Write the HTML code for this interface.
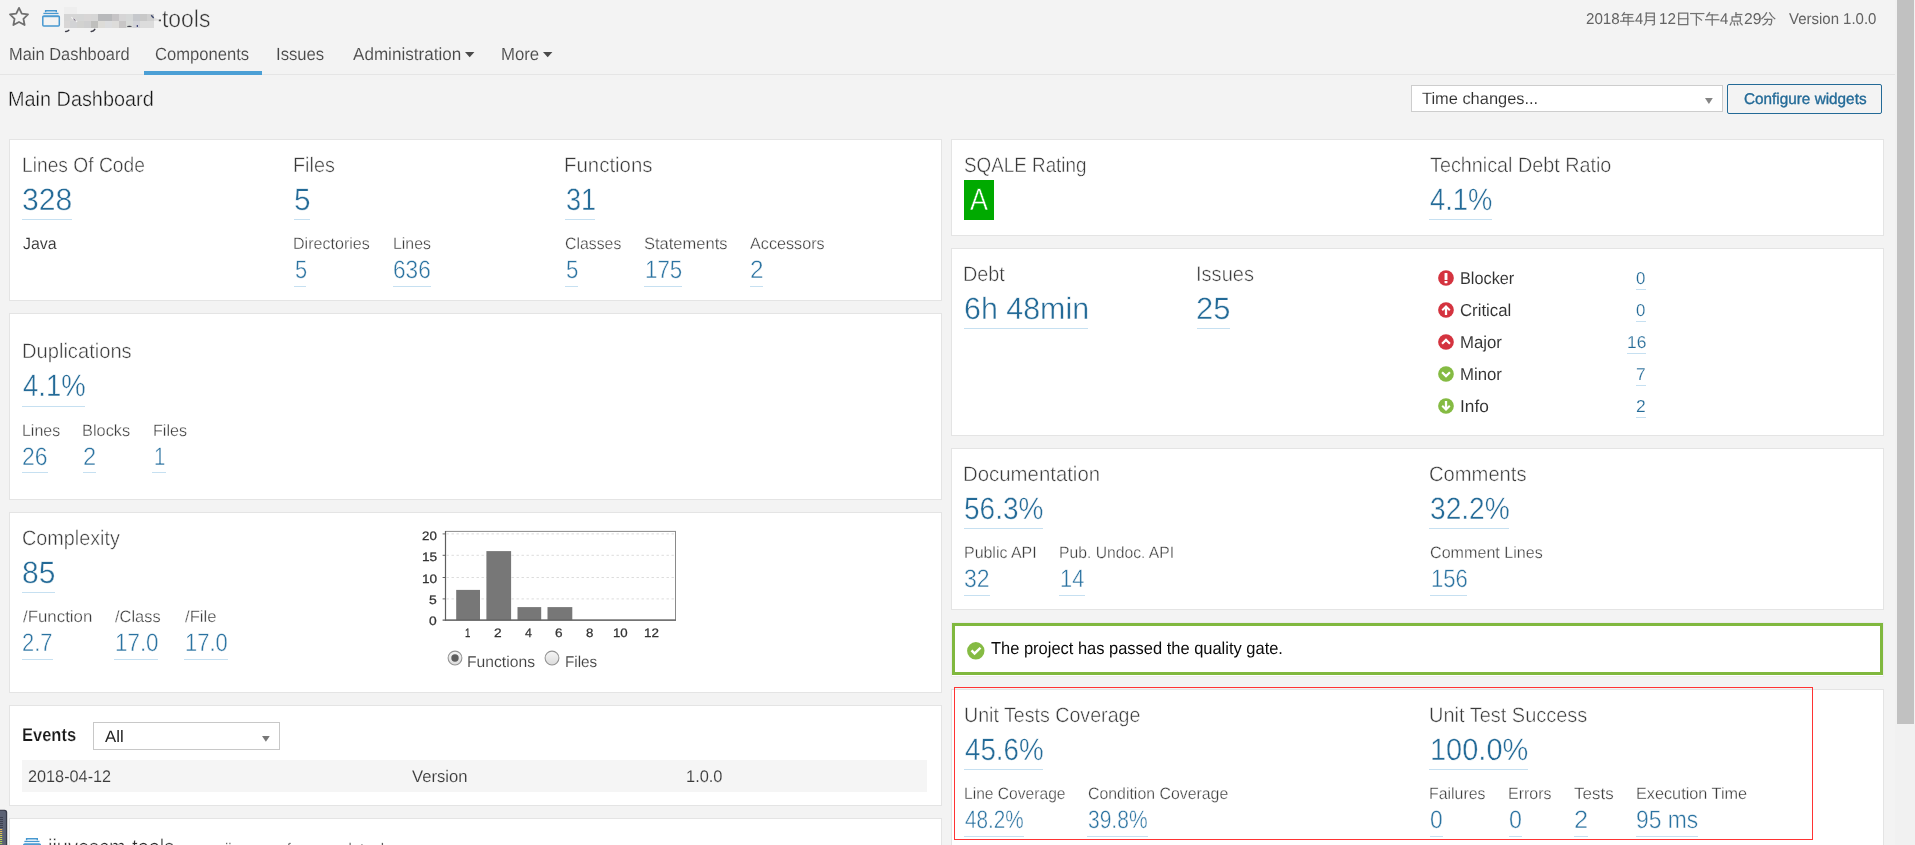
<!DOCTYPE html>
<html lang="en">
<head>
<meta charset="utf-8">
<title>Main Dashboard - tools</title>
<style>
html,body{margin:0;padding:0;}
body{background:#f3f3f3;font-family:"Liberation Sans",sans-serif;overflow:hidden;}
#page{position:relative;width:1915px;height:845px;overflow:hidden;background:#f3f3f3;}
#page *{box-sizing:border-box;}
.abs,.panel,.t,.u,svg.ic{position:absolute;}
.panel{background:#fff;border:1px solid #e4e4e4;}
.t{white-space:nowrap;line-height:1;text-rendering:geometricPrecision;transform-origin:0 0;font-family:"Liberation Sans",sans-serif;}
.t.blur{filter:blur(0.35px);}
.u{display:block;}
svg.ic{overflow:visible;}
</style>
</head>
<body>
<div id="page">
<svg class="ic" style="left:8px;top:6px" width="22" height="21" viewBox="0 0 22 21"><path d="M11 1.9 L13.75 7.6 L20 8.45 L15.45 12.8 L16.6 19 L11 16 L5.4 19 L6.55 12.8 L2 8.45 L8.25 7.6 Z" fill="none" stroke="#6f6f6f" stroke-width="1.8" stroke-linejoin="round"/></svg>
<svg class="ic" style="left:41px;top:9px" width="20" height="18" viewBox="0 0 20 18"><g fill="none" stroke="#4798d0" stroke-width="1.5"><rect x="1.8" y="6.9" width="16.5" height="10.1" rx="1"/><path d="M1.6 7.7 H18.5" stroke-width="1"/><path d="M2.4 4.45 H17.5" stroke-width="1.3"/><path d="M4.6 3.3 V1.7 H15.3 V3.3" stroke-width="1.4"/></g></svg>
<div class="abs" style="left:64.4px;top:7.1px;width:12.6px;height:6.9px;background:#eeeeee"></div>
<div class="abs" style="left:64.4px;top:13.9px;width:5.85px;height:7.15px;background:#d5d5d5"></div>
<div class="abs" style="left:64.4px;top:21px;width:5.85px;height:7px;background:#d8d6d6"></div>
<div class="abs" style="left:70.2px;top:13.9px;width:6.85px;height:7.15px;background:#d6d6d6"></div>
<div class="abs" style="left:70.2px;top:21px;width:6.85px;height:7px;background:#d2d3d5"></div>
<div class="abs" style="left:77px;top:13.9px;width:7.05px;height:7.15px;background:#d5d6d6"></div>
<div class="abs" style="left:77px;top:21px;width:7.05px;height:7px;background:#d2d2d0"></div>
<div class="abs" style="left:84px;top:13.9px;width:7.15px;height:7.15px;background:#d8d6d6"></div>
<div class="abs" style="left:84px;top:21px;width:7.15px;height:7px;background:#cfcfd0"></div>
<div class="abs" style="left:91.1px;top:13.9px;width:7.05px;height:7.15px;background:#d6d6d6"></div>
<div class="abs" style="left:91.1px;top:21px;width:7.05px;height:7px;background:#bfbfbd"></div>
<div class="abs" style="left:98.1px;top:13.9px;width:6.85px;height:7.15px;background:#b8b9bb"></div>
<div class="abs" style="left:98.1px;top:21px;width:6.85px;height:7px;background:#dddcd8"></div>
<div class="abs" style="left:104.9px;top:13.9px;width:7.15px;height:7.15px;background:#b8b9bb"></div>
<div class="abs" style="left:104.9px;top:21px;width:7.15px;height:7px;background:#dcdddf"></div>
<div class="abs" style="left:112px;top:13.9px;width:7.05px;height:7.15px;background:#c6c4c6"></div>
<div class="abs" style="left:112px;top:21px;width:7.05px;height:7px;background:#dddcda"></div>
<div class="abs" style="left:119px;top:13.9px;width:7.15px;height:7.15px;background:#d6d5d6"></div>
<div class="abs" style="left:119px;top:21px;width:7.15px;height:7px;background:#c8c6c6"></div>
<div class="abs" style="left:126.1px;top:13.9px;width:7.05px;height:7.15px;background:#d6d8d8"></div>
<div class="abs" style="left:126.1px;top:21px;width:7.05px;height:7px;background:#d8dad8"></div>
<div class="abs" style="left:133.1px;top:13.9px;width:7.15px;height:7.15px;background:#c6c8cc"></div>
<div class="abs" style="left:133.1px;top:21px;width:7.15px;height:7px;background:#d2d3d8"></div>
<div class="abs" style="left:140.2px;top:13.9px;width:6.75px;height:7.15px;background:#c8c8c8"></div>
<div class="abs" style="left:140.2px;top:21px;width:6.75px;height:7px;background:#dcdcdc"></div>
<div class="abs" style="left:146.9px;top:13.9px;width:7.15px;height:7.15px;background:#d0d0d0"></div>
<div class="abs" style="left:146.9px;top:21px;width:7.15px;height:7px;background:#dcdcdc"></div>
<svg class="ic" style="left:60px;top:4px" width="110" height="32" viewBox="0 0 110 32"><g fill="none" stroke="#3f3f4a" stroke-width="1.5" stroke-linecap="round"><path d="M8.8 26.2 Q7.6 27.6 5.6 27.4"/><path d="M34.8 25.4 Q33.6 27.6 31.2 27.5"/></g><ellipse cx="69.4" cy="22.35" rx="2.5" ry="0.65" fill="#3a3a44"/><path d="M77.3 20.9 V23" stroke="#2a2f6a" stroke-width="1.1"/><path d="M91.2 11.3 L93.7 14" stroke="#3f4a6e" stroke-width="1.4"/><path d="M94 13.8 L98.6 15.2 L98.6 16.6 L94 17 Z" fill="#e0e0e0"/><path d="M98.8 16.4 H101" stroke="#4a4a4a" stroke-width="1.7"/><path d="M11.4 13.2 L13.2 15.2" stroke="#f2f2f2" stroke-width="1.2"/><path d="M13.6 15 L15.4 16.6" stroke="#5a4a6a" stroke-width="0.9"/><path d="M15.8 17 L17.2 17.8" stroke="#f4f4f4" stroke-width="1.3"/></svg>
<svg class="ic" style="left:1620.3px;top:11.6px" width="14.4" height="13.5" viewBox="0 0 14 14" preserveAspectRatio="none"><g fill="none" stroke="#727272" stroke-width="1.25" stroke-linecap="square"><path d="M4.2 0.6 L2.2 3.8"/><path d="M3.4 2.6 H12.4"/><path d="M3.6 6 H11.8"/><path d="M3.6 6 V9.6"/><path d="M0.6 9.6 H13.4"/><path d="M7.9 2.6 V13.6"/></g></svg>
<svg class="ic" style="left:1643.4px;top:11.6px" width="14.4" height="13.5" viewBox="0 0 14 14" preserveAspectRatio="none"><g fill="none" stroke="#727272" stroke-width="1.25" stroke-linecap="square"><path d="M3.2 1.2 V8.6 Q3.2 11.8 1.2 13.4"/><path d="M3.2 1.2 H11 V12.6 Q11 13.5 9.2 13.4"/><path d="M3.2 5 H11"/><path d="M3.2 8.8 H11"/></g></svg>
<svg class="ic" style="left:1675.9px;top:11.6px" width="14.4" height="13.5" viewBox="0 0 14 14" preserveAspectRatio="none"><g fill="none" stroke="#727272" stroke-width="1.25" stroke-linecap="square"><path d="M2.6 1.2 H11.4 V13 H2.6 Z"/><path d="M2.6 7 H11.4"/></g></svg>
<svg class="ic" style="left:1690.0px;top:11.6px" width="14.4" height="13.5" viewBox="0 0 14 14" preserveAspectRatio="none"><g fill="none" stroke="#727272" stroke-width="1.25" stroke-linecap="square"><path d="M0.6 1.6 H13.4"/><path d="M6.2 1.6 V13.6"/><path d="M7.2 5.2 L11.2 8.4"/></g></svg>
<svg class="ic" style="left:1705.0px;top:11.6px" width="14.4" height="13.5" viewBox="0 0 14 14" preserveAspectRatio="none"><g fill="none" stroke="#727272" stroke-width="1.25" stroke-linecap="square"><path d="M4.4 0.6 L1.8 4.8"/><path d="M3.4 3 H12.4"/><path d="M0.6 8 H13.4"/><path d="M7 3 V13.6"/></g></svg>
<svg class="ic" style="left:1729.0px;top:11.6px" width="14.4" height="13.5" viewBox="0 0 14 14" preserveAspectRatio="none"><g fill="none" stroke="#727272" stroke-width="1.25" stroke-linecap="square"><path d="M6.8 0.6 V5"/><path d="M6.8 2.6 H12.4"/><path d="M3 5 H11 V9.4 H3 Z"/><path d="M2.2 11.2 L1.2 13.4"/><path d="M5 11.4 L5.4 13.4"/><path d="M8 11.4 L8.6 13.4"/><path d="M11 11.2 L12.8 13.4"/></g></svg>
<svg class="ic" style="left:1761.2px;top:11.6px" width="14.4" height="13.5" viewBox="0 0 14 14" preserveAspectRatio="none"><g fill="none" stroke="#727272" stroke-width="1.25" stroke-linecap="square"><path d="M5.4 0.8 Q4.2 4.2 0.8 7"/><path d="M8.4 0.8 Q9.8 4.2 13.4 7"/><path d="M3.6 7.6 H10.4 Q10.4 12.4 9.2 13.4 L7.8 13"/><path d="M6.6 7.6 Q6 11.6 2 13.4"/></g></svg>
<div class="abs" style="left:0px;top:74px;width:1895px;height:1px;background:#e5e5e5"></div>
<div class="abs" style="left:144px;top:71px;width:118px;height:4px;background:#4b9fd5"></div>
<svg class="ic" style="left:464.6px;top:52.4px" width="9.4" height="5.2" viewBox="0 0 9.4 5.2"><path d="M0 0 H9.4 L4.7 5.2 Z" fill="#4a4a4a"/></svg>
<svg class="ic" style="left:543px;top:52.4px" width="9.4" height="5.2" viewBox="0 0 9.4 5.2"><path d="M0 0 H9.4 L4.7 5.2 Z" fill="#4a4a4a"/></svg>
<div class="abs" style="left:1411px;top:85px;width:312px;height:27px;background:#fff;border:1px solid #cdcdcd"></div>
<svg class="ic" style="left:1705.2px;top:97.9px" width="7.8" height="6.1" viewBox="0 0 8 6"><path d="M0 0 H8 L4 6 Z" fill="#858585"/></svg>
<div class="abs" style="left:1727px;top:84px;width:155px;height:30px;background:#f3f3f3;border:1px solid #236a97;border-radius:2px"></div>
<div class="panel" style="left:9px;top:139px;width:933px;height:162px;"></div>
<div class="panel" style="left:9px;top:313px;width:933px;height:187px;"></div>
<div class="panel" style="left:9px;top:512px;width:933px;height:181px;"></div>
<div class="panel" style="left:9px;top:705px;width:933px;height:101px;"></div>
<div class="panel" style="left:9px;top:818px;width:933px;height:82px;"></div>
<div class="panel" style="left:951px;top:139px;width:933px;height:97px;"></div>
<div class="panel" style="left:951px;top:248px;width:933px;height:188px;"></div>
<div class="panel" style="left:951px;top:448px;width:933px;height:162px;"></div>
<div class="panel" style="left:951px;top:622px;width:933px;height:55px;border-color:#ececec;"></div>
<div class="panel" style="left:951px;top:689px;width:933px;height:211px;"></div>
<div class="abs" style="left:964px;top:180px;width:30px;height:39.5px;background:#00aa00"></div>
<svg class="ic" style="left:1438px;top:270px" width="16" height="16" viewBox="0 0 16 16"><circle cx="8" cy="8" r="7.85" fill="#d4333f"/><rect x="6.55" y="3" width="2.9" height="7" rx="0.5" fill="#fff"/><rect x="6.55" y="11" width="2.9" height="2.2" rx="0.4" fill="#fff"/></svg>
<svg class="ic" style="left:1438px;top:302px" width="16" height="16" viewBox="0 0 16 16"><circle cx="8" cy="8" r="7.85" fill="#d4333f"/><path d="M8 2.9 L12.5 7.6 L11.1 9 L9.15 7 V13 H6.85 V7 L4.9 9 L3.5 7.6 Z" fill="#fff"/></svg>
<svg class="ic" style="left:1438px;top:334px" width="16" height="16" viewBox="0 0 16 16"><circle cx="8" cy="8" r="7.85" fill="#d4333f"/><path d="M8 4.3 L12.7 9.1 L11.2 10.6 L8 7.4 L4.8 10.6 L3.3 9.1 Z" fill="#fff"/></svg>
<svg class="ic" style="left:1438px;top:366px" width="16" height="16" viewBox="0 0 16 16"><circle cx="8" cy="8" r="7.85" fill="#85bb43"/><path d="M8 11.7 L12.7 6.9 L11.2 5.4 L8 8.6 L4.8 5.4 L3.3 6.9 Z" fill="#fff"/></svg>
<svg class="ic" style="left:1438px;top:398px" width="16" height="16" viewBox="0 0 16 16"><circle cx="8" cy="8" r="7.85" fill="#85bb43"/><path d="M8 13.1 L12.5 8.4 L11.1 7 L9.15 9 V3 H6.85 V9 L4.9 7 L3.5 8.4 Z" fill="#fff"/></svg>
<div class="abs" style="left:952px;top:623px;width:931px;height:52px;border:3px solid #80b83e;background:#fff"></div>
<svg class="ic" style="left:966.6px;top:641.5px" width="17.6" height="17.6" viewBox="0 0 17.6 17.6"><circle cx="8.8" cy="8.8" r="8.7" fill="#85bb43"/><path d="M3.6 9.2 L5.4 7.5 L7.6 9.7 L12.6 4.9 L14.4 6.6 L7.6 13.2 Z" fill="#fff"/></svg>
<svg class="ic" style="left:415px;top:525px;filter:blur(0.3px)" width="280" height="110" viewBox="415 525 280 110"><rect x="445.5" y="531.4" width="230" height="88.7" fill="#fff" stroke="#8a8a8a" stroke-width="1"/><path d="M446.5 533.9 H675" stroke="#dcdcdc" stroke-width="1" stroke-dasharray="2.4 2.6"/><path d="M442.6 533.9 H445.5" stroke="#666" stroke-width="1"/><path d="M446.5 555.3 H675" stroke="#dcdcdc" stroke-width="1" stroke-dasharray="2.4 2.6"/><path d="M442.6 555.3 H445.5" stroke="#666" stroke-width="1"/><path d="M446.5 577.5 H675" stroke="#dcdcdc" stroke-width="1" stroke-dasharray="2.4 2.6"/><path d="M442.6 577.5 H445.5" stroke="#666" stroke-width="1"/><path d="M446.5 598.9 H675" stroke="#dcdcdc" stroke-width="1" stroke-dasharray="2.4 2.6"/><path d="M442.6 598.9 H445.5" stroke="#666" stroke-width="1"/><rect x="456.2" y="589.9" width="23.8" height="30.2" fill="#777"/><rect x="486.4" y="551.1" width="24.7" height="69.0" fill="#777"/><rect x="517.5" y="607.1" width="23.7" height="13.0" fill="#777"/><rect x="547.5" y="607.1" width="24.8" height="13.0" fill="#777"/><path d="M445.5 531 V620.6" stroke="#5e5e5e" stroke-width="1.2"/><path d="M442.6 620.1 H676" stroke="#5e5e5e" stroke-width="1.2"/></svg>
<svg class="ic" style="left:447.4px;top:650.4px" width="16" height="16" viewBox="0 0 16 16"><defs><linearGradient id="rg455" x1="0" y1="0" x2="0" y2="1"><stop offset="0" stop-color="#f6f6f6"/><stop offset="1" stop-color="#dcdcdc"/></linearGradient></defs><circle cx="8" cy="8" r="6.9" fill="url(#rg455)" stroke="#939393" stroke-width="1.05"/><circle cx="8" cy="8" r="3.7" fill="#5e5e5e"/></svg>
<svg class="ic" style="left:544.4px;top:650.2px" width="16" height="16" viewBox="0 0 16 16"><defs><linearGradient id="rg552" x1="0" y1="0" x2="0" y2="1"><stop offset="0" stop-color="#f6f6f6"/><stop offset="1" stop-color="#dcdcdc"/></linearGradient></defs><circle cx="8" cy="8" r="6.9" fill="url(#rg552)" stroke="#939393" stroke-width="1.05"/></svg>
<div class="abs" style="left:93px;top:722px;width:187px;height:28px;background:#fff;border:1px solid #c8c8c8"></div>
<svg class="ic" style="left:262.4px;top:736.4px" width="7.8" height="5.8" viewBox="0 0 8 6"><path d="M0 0 H8 L4 6 Z" fill="#777"/></svg>
<div class="abs" style="left:22px;top:760px;width:905px;height:31.6px;background:#f5f5f5"></div>
<svg class="ic" style="left:22px;top:836.6px" width="20" height="18" viewBox="0 0 20 18"><g fill="none" stroke="#4798d0" stroke-width="1.5"><rect x="1.8" y="6.9" width="16.5" height="10.1" rx="1"/><path d="M1.6 7.7 H18.5" stroke-width="1"/><path d="M2.4 4.45 H17.5" stroke-width="1.3"/><path d="M4.6 3.3 V1.7 H15.3 V3.3" stroke-width="1.4"/></g></svg>
<!-- text -->
<span class="t" style="left:161.9px;top:7.85px;font-size:24.6px;color:#333;transform:scaleX(0.9318);-webkit-text-stroke:0.5px #f3f3f3">tools</span>
<span class="t" style="left:1586.09px;top:11.9px;font-size:15.6px;color:#626262;transform:scaleX(0.9718)">2018</span>
<span class="t" style="left:1635.37px;top:11.9px;font-size:15.6px;color:#626262;transform:scaleX(0.9448)">4</span>
<span class="t" style="left:1659.25px;top:11.9px;font-size:15.6px;color:#626262;transform:scaleX(0.9781)">12</span>
<span class="t" style="left:1720.37px;top:11.9px;font-size:15.6px;color:#626262;transform:scaleX(0.9573)">4</span>
<span class="t" style="left:1743.86px;top:11.9px;font-size:15.6px;color:#626262;transform:scaleX(1.007)">29</span>
<span class="t" style="left:1788.9px;top:11.9px;font-size:15.6px;color:#626262;transform:scaleX(0.9606)">Version 1.0.0</span>
<span class="t" style="left:8.52px;top:46px;font-size:17.6px;color:#484848;transform:scaleX(0.9339);-webkit-text-stroke:0.1px #f3f3f3">Main Dashboard</span>
<span class="t" style="left:155.42px;top:46px;font-size:17.6px;color:#484848;transform:scaleX(0.9429);-webkit-text-stroke:0.1px #f3f3f3">Components</span>
<span class="t" style="left:276.3px;top:46px;font-size:17.6px;color:#484848;transform:scaleX(0.9481);-webkit-text-stroke:0.1px #f3f3f3">Issues</span>
<span class="t" style="left:352.6px;top:46px;font-size:17.6px;color:#484848;transform:scaleX(0.9708);-webkit-text-stroke:0.1px #f3f3f3">Administration</span>
<span class="t" style="left:501.29px;top:46px;font-size:17.6px;color:#484848;transform:scaleX(0.9524);-webkit-text-stroke:0.1px #f3f3f3">More</span>
<span class="t" style="left:8.05px;top:89.9px;font-size:20.9px;color:#161616;transform:scaleX(0.9505);-webkit-text-stroke:0.36px #f3f3f3">Main Dashboard</span>
<span class="t" style="left:1422.34px;top:90.8px;font-size:16.5px;color:#2c2c2c;transform:scaleX(0.9946);-webkit-text-stroke:0.1px #fff">Time changes...</span>
<span class="t" style="left:1743.88px;top:91.9px;font-size:15.6px;color:#236a97;transform:scaleX(0.9818);-webkit-text-stroke:0.35px #236a97">Configure widgets</span>
<span class="t" style="left:21.8px;top:155.8px;font-size:20.9px;color:#3a3a3a;transform:scaleX(0.9197);-webkit-text-stroke:0.45px #fff">Lines Of Code</span>
<span class="t" style="left:22.46px;top:184.9px;font-size:30.8px;color:#236a97;transform:scaleX(0.9781);-webkit-text-stroke:0.45px #fff">328</span>
<span class="t" style="left:22.75px;top:236.2px;font-size:16.4px;color:#333;transform:scaleX(0.9742);-webkit-text-stroke:0.1px #fff">Java</span>
<span class="t" style="left:293.25px;top:155.8px;font-size:20.9px;color:#3a3a3a;transform:scaleX(0.9488);-webkit-text-stroke:0.45px #fff">Files</span>
<span class="t" style="left:294.47px;top:184.9px;font-size:30.8px;color:#236a97;transform:scaleX(0.9652);-webkit-text-stroke:0.45px #fff">5</span>
<span class="t" style="left:293.44px;top:235.5px;font-size:16.4px;color:#3c3c3c;transform:scaleX(0.9807);-webkit-text-stroke:0.3px #fff">Directories</span>
<span class="t" style="left:392.96px;top:235.5px;font-size:16.4px;color:#3c3c3c;transform:scaleX(0.9676);-webkit-text-stroke:0.3px #fff">Lines</span>
<span class="t" style="left:294.62px;top:258px;font-size:25.2px;color:#2a72a0;transform:scaleX(0.8684);-webkit-text-stroke:0.45px #fff">5</span>
<span class="t" style="left:393.14px;top:258px;font-size:25.2px;color:#2a72a0;transform:scaleX(0.8985);-webkit-text-stroke:0.45px #fff">636</span>
<span class="t" style="left:564.3px;top:155.8px;font-size:20.9px;color:#3a3a3a;transform:scaleX(0.9771);-webkit-text-stroke:0.45px #fff">Functions</span>
<span class="t" style="left:565.55px;top:184.9px;font-size:30.8px;color:#236a97;transform:scaleX(0.8799);-webkit-text-stroke:0.45px #fff">31</span>
<span class="t" style="left:565.06px;top:235.5px;font-size:16.4px;color:#3c3c3c;transform:scaleX(0.9659);-webkit-text-stroke:0.3px #fff">Classes</span>
<span class="t" style="left:643.88px;top:235.5px;font-size:16.4px;color:#3c3c3c;transform:scaleX(1.007);-webkit-text-stroke:0.3px #fff">Statements</span>
<span class="t" style="left:750.2px;top:235.5px;font-size:16.4px;color:#3c3c3c;transform:scaleX(0.9876);-webkit-text-stroke:0.3px #fff">Accessors</span>
<span class="t" style="left:565.7px;top:258px;font-size:25.2px;color:#2a72a0;transform:scaleX(0.8848);-webkit-text-stroke:0.45px #fff">5</span>
<span class="t" style="left:644.6px;top:258px;font-size:25.2px;color:#2a72a0;transform:scaleX(0.8872);-webkit-text-stroke:0.45px #fff">175</span>
<span class="t" style="left:749.66px;top:258px;font-size:25.2px;color:#2a72a0;transform:scaleX(0.9651);-webkit-text-stroke:0.45px #fff">2</span>
<span class="t" style="left:21.73px;top:341.8px;font-size:20.9px;color:#3a3a3a;transform:scaleX(0.9636);-webkit-text-stroke:0.45px #fff">Duplications</span>
<span class="t" style="left:22.57px;top:370.9px;font-size:30.8px;color:#236a97;transform:scaleX(0.8909);-webkit-text-stroke:0.45px #fff">4.1%</span>
<span class="t" style="left:21.95px;top:422.8px;font-size:16.4px;color:#3c3c3c;transform:scaleX(0.9729);-webkit-text-stroke:0.3px #fff">Lines</span>
<span class="t" style="left:82.32px;top:422.8px;font-size:16.4px;color:#3c3c3c;transform:scaleX(0.9976);-webkit-text-stroke:0.3px #fff">Blocks</span>
<span class="t" style="left:152.64px;top:422.8px;font-size:16.4px;color:#3c3c3c;transform:scaleX(0.9838);-webkit-text-stroke:0.3px #fff">Files</span>
<span class="t" style="left:22.43px;top:445px;font-size:25.2px;color:#2a72a0;transform:scaleX(0.9099);-webkit-text-stroke:0.45px #fff">26</span>
<span class="t" style="left:82.89px;top:445px;font-size:25.2px;color:#2a72a0;transform:scaleX(0.9397);-webkit-text-stroke:0.45px #fff">2</span>
<span class="t" style="left:153.53px;top:445px;font-size:25.2px;color:#2a72a0;transform:scaleX(0.8057);-webkit-text-stroke:0.45px #fff">1</span>
<span class="t" style="left:22.27px;top:528.8px;font-size:20.9px;color:#3a3a3a;transform:scaleX(0.9474);-webkit-text-stroke:0.45px #fff">Complexity</span>
<span class="t" style="left:22.46px;top:557.9px;font-size:30.8px;color:#236a97;transform:scaleX(0.9735);-webkit-text-stroke:0.45px #fff">85</span>
<span class="t" style="left:22.6px;top:608.9px;font-size:16.4px;color:#3c3c3c;transform:scaleX(1.028);-webkit-text-stroke:0.3px #fff">/Function</span>
<span class="t" style="left:114.5px;top:608.9px;font-size:16.4px;color:#3c3c3c;transform:scaleX(1.0011);-webkit-text-stroke:0.3px #fff">/Class</span>
<span class="t" style="left:185.2px;top:608.9px;font-size:16.4px;color:#3c3c3c;transform:scaleX(1.0159);-webkit-text-stroke:0.3px #fff">/File</span>
<span class="t" style="left:22.47px;top:631.1px;font-size:25.2px;color:#2a72a0;transform:scaleX(0.8681);-webkit-text-stroke:0.45px #fff">2.7</span>
<span class="t" style="left:114.6px;top:631.1px;font-size:25.2px;color:#2a72a0;transform:scaleX(0.8881);-webkit-text-stroke:0.45px #fff">17.0</span>
<span class="t" style="left:185.43px;top:631.1px;font-size:25.2px;color:#2a72a0;transform:scaleX(0.871);-webkit-text-stroke:0.45px #fff">17.0</span>
<span class="t" style="left:466.97px;top:654.8px;font-size:15.6px;color:#3e3e3e;transform:scaleX(1.0057);-webkit-text-stroke:0.12px #fff">Functions</span>
<span class="t" style="left:564.71px;top:654.8px;font-size:15.6px;color:#3e3e3e;transform:scaleX(0.9798);-webkit-text-stroke:0.12px #fff">Files</span>
<span class="t" style="left:21.77px;top:726px;font-size:18.6px;color:#1a1a1a;transform:scaleX(0.887);font-weight:700;-webkit-text-stroke:0.2px #fff">Events</span>
<span class="t" style="left:104.5px;top:728.7px;font-size:16.5px;color:#222;transform:scaleX(1.0145)">All</span>
<span class="t" style="left:27.74px;top:768.7px;font-size:16.8px;color:#3a3a3a;transform:scaleX(0.9684);-webkit-text-stroke:0.12px #f5f5f5">2018-04-12</span>
<span class="t" style="left:411.8px;top:768.7px;font-size:16.8px;color:#3a3a3a;transform:scaleX(0.9911);-webkit-text-stroke:0.12px #f5f5f5">Version</span>
<span class="t" style="left:686.17px;top:768.7px;font-size:16.8px;color:#3a3a3a;transform:scaleX(0.9778);-webkit-text-stroke:0.12px #f5f5f5">1.0.0</span>
<span class="t" style="left:48.02px;top:836.3px;font-size:23px;color:#2e2e2e;transform:scaleX(0.8661);-webkit-text-stroke:0.45px #fff">jiuyescm-tools</span>
<span class="t" style="left:225.46px;top:841.9px;font-size:15.4px;color:#555;transform:scaleX(0.9632);-webkit-text-stroke:0.15px #fff">jiuyescm framework tools</span>
<span class="t" style="left:964.01px;top:155.8px;font-size:20.9px;color:#3a3a3a;transform:scaleX(0.9016);-webkit-text-stroke:0.45px #fff">SQALE Rating</span>
<span class="t" style="left:970.2px;top:184.8px;font-size:30.8px;color:#fff;transform:scaleX(0.8747);-webkit-text-stroke:0.5px #00aa00">A</span>
<span class="t" style="left:1429.89px;top:155.8px;font-size:20.9px;color:#3a3a3a;transform:scaleX(0.9464);-webkit-text-stroke:0.45px #fff">Technical Debt Ratio</span>
<span class="t" style="left:1430.17px;top:184.9px;font-size:30.8px;color:#236a97;transform:scaleX(0.888);-webkit-text-stroke:0.45px #fff">4.1%</span>
<span class="t" style="left:963.45px;top:264.9px;font-size:20.9px;color:#3a3a3a;transform:scaleX(0.9487);-webkit-text-stroke:0.45px #fff">Debt</span>
<span class="t" style="left:963.77px;top:293.9px;font-size:30.8px;color:#236a97;transform:scaleX(0.9876);-webkit-text-stroke:0.45px #fff">6h 48min</span>
<span class="t" style="left:1196.43px;top:264.9px;font-size:20.9px;color:#3a3a3a;transform:scaleX(0.9601);-webkit-text-stroke:0.45px #fff">Issues</span>
<span class="t" style="left:1196.45px;top:293.9px;font-size:30.8px;color:#236a97;transform:scaleX(1.0042);-webkit-text-stroke:0.45px #fff">25</span>
<span class="t" style="left:1459.73px;top:270px;font-size:17.2px;color:#303030;transform:scaleX(0.9459);-webkit-text-stroke:0.05px #fff">Blocker</span>
<span class="t" style="left:1636.37px;top:270px;font-size:17.3px;color:#236a97;transform:scaleX(0.9711);-webkit-text-stroke:0.2px #fff">0</span>
<span class="t" style="left:1460.21px;top:302px;font-size:17.2px;color:#303030;transform:scaleX(0.9759);-webkit-text-stroke:0.05px #fff">Critical</span>
<span class="t" style="left:1636.37px;top:302px;font-size:17.3px;color:#236a97;transform:scaleX(0.9711);-webkit-text-stroke:0.2px #fff">0</span>
<span class="t" style="left:1459.69px;top:334px;font-size:17.2px;color:#303030;transform:scaleX(0.9764);-webkit-text-stroke:0.05px #fff">Major</span>
<span class="t" style="left:1626.61px;top:334px;font-size:17.3px;color:#236a97;transform:scaleX(1.008);-webkit-text-stroke:0.2px #fff">16</span>
<span class="t" style="left:1459.69px;top:366px;font-size:17.2px;color:#303030;transform:scaleX(0.9764);-webkit-text-stroke:0.05px #fff">Minor</span>
<span class="t" style="left:1636.28px;top:366px;font-size:17.3px;color:#236a97;transform:scaleX(1.0112);-webkit-text-stroke:0.2px #fff">7</span>
<span class="t" style="left:1459.65px;top:398px;font-size:17.2px;color:#303030;transform:scaleX(1.0057);-webkit-text-stroke:0.05px #fff">Info</span>
<span class="t" style="left:1636.28px;top:398px;font-size:17.3px;color:#236a97;transform:scaleX(1.0112);-webkit-text-stroke:0.2px #fff">2</span>
<span class="t" style="left:963.41px;top:464.7px;font-size:20.9px;color:#3a3a3a;transform:scaleX(0.9755);-webkit-text-stroke:0.45px #fff">Documentation</span>
<span class="t" style="left:964.12px;top:493.9px;font-size:30.8px;color:#236a97;transform:scaleX(0.9093);-webkit-text-stroke:0.45px #fff">56.3%</span>
<span class="t" style="left:963.75px;top:544.8px;font-size:16.4px;color:#3c3c3c;transform:scaleX(0.9726);-webkit-text-stroke:0.3px #fff">Public API</span>
<span class="t" style="left:1059.17px;top:544.8px;font-size:16.4px;color:#3c3c3c;transform:scaleX(0.9571);-webkit-text-stroke:0.3px #fff">Pub. Undoc. API</span>
<span class="t" style="left:964.38px;top:567px;font-size:25.2px;color:#2a72a0;transform:scaleX(0.9153);-webkit-text-stroke:0.45px #fff">32</span>
<span class="t" style="left:1060.23px;top:567px;font-size:25.2px;color:#2a72a0;transform:scaleX(0.8673);-webkit-text-stroke:0.45px #fff">14</span>
<span class="t" style="left:1429.45px;top:464.7px;font-size:20.9px;color:#3a3a3a;transform:scaleX(0.9657);-webkit-text-stroke:0.45px #fff">Comments</span>
<span class="t" style="left:1429.72px;top:493.9px;font-size:30.8px;color:#236a97;transform:scaleX(0.9128);-webkit-text-stroke:0.45px #fff">32.2%</span>
<span class="t" style="left:1429.64px;top:544.8px;font-size:16.4px;color:#3c3c3c;transform:scaleX(0.9827);-webkit-text-stroke:0.3px #fff">Comment Lines</span>
<span class="t" style="left:1430.62px;top:567px;font-size:25.2px;color:#2a72a0;transform:scaleX(0.8771);-webkit-text-stroke:0.45px #fff">156</span>
<span class="t" style="left:991.24px;top:639.8px;font-size:17.3px;color:#0a0a0a;transform:scaleX(0.9526)">The project has passed the quality gate.</span>
<span class="t" style="left:964.17px;top:705.8px;font-size:20.9px;color:#3a3a3a;transform:scaleX(0.9396);-webkit-text-stroke:0.45px #fff">Unit Tests Coverage</span>
<span class="t" style="left:964.67px;top:734.9px;font-size:30.8px;color:#236a97;transform:scaleX(0.8995);-webkit-text-stroke:0.45px #fff">45.6%</span>
<span class="t" style="left:963.98px;top:785.9px;font-size:16.4px;color:#3c3c3c;transform:scaleX(0.952);-webkit-text-stroke:0.3px #fff">Line Coverage</span>
<span class="t" style="left:1087.66px;top:785.9px;font-size:16.4px;color:#3c3c3c;transform:scaleX(0.9678);-webkit-text-stroke:0.3px #fff">Condition Coverage</span>
<span class="t" style="left:964.88px;top:808px;font-size:25.2px;color:#2a72a0;transform:scaleX(0.8235);-webkit-text-stroke:0.45px #fff">48.2%</span>
<span class="t" style="left:1087.94px;top:808px;font-size:25.2px;color:#2a72a0;transform:scaleX(0.8339);-webkit-text-stroke:0.45px #fff">39.8%</span>
<span class="t" style="left:1429.15px;top:705.8px;font-size:20.9px;color:#3a3a3a;transform:scaleX(0.9553);-webkit-text-stroke:0.45px #fff">Unit Test Success</span>
<span class="t" style="left:1430.19px;top:734.9px;font-size:30.8px;color:#236a97;transform:scaleX(0.9408);-webkit-text-stroke:0.45px #fff">100.0%</span>
<span class="t" style="left:1429.36px;top:785.9px;font-size:16.4px;color:#3c3c3c;transform:scaleX(0.9693);-webkit-text-stroke:0.3px #fff">Failures</span>
<span class="t" style="left:1508.15px;top:785.9px;font-size:16.4px;color:#3c3c3c;transform:scaleX(0.9778);-webkit-text-stroke:0.3px #fff">Errors</span>
<span class="t" style="left:1574.13px;top:785.9px;font-size:16.4px;color:#3c3c3c;transform:scaleX(1.0371);-webkit-text-stroke:0.3px #fff">Tests</span>
<span class="t" style="left:1635.73px;top:785.9px;font-size:16.4px;color:#3c3c3c;transform:scaleX(0.9912);-webkit-text-stroke:0.3px #fff">Execution Time</span>
<span class="t" style="left:1430.29px;top:808px;font-size:25.2px;color:#2a72a0;transform:scaleX(0.9048);-webkit-text-stroke:0.45px #fff">0</span>
<span class="t" style="left:1509.08px;top:808px;font-size:25.2px;color:#2a72a0;transform:scaleX(0.9206);-webkit-text-stroke:0.45px #fff">0</span>
<span class="t" style="left:1573.81px;top:808px;font-size:25.2px;color:#2a72a0;transform:scaleX(1.0074);-webkit-text-stroke:0.45px #fff">2</span>
<span class="t" style="left:1636.33px;top:808px;font-size:25.2px;color:#2a72a0;transform:scaleX(0.9062);-webkit-text-stroke:0.45px #fff">95 ms</span>
<span class="t blur" style="left:422.25px;top:529.7px;font-size:12.3px;color:#333;transform:scaleX(1.0838);-webkit-text-stroke:0.25px #333">20</span>
<span class="t blur" style="left:421.9px;top:550.6px;font-size:12.3px;color:#333;transform:scaleX(1.1147);-webkit-text-stroke:0.25px #333">15</span>
<span class="t blur" style="left:421.9px;top:572.6px;font-size:12.3px;color:#333;transform:scaleX(1.1102);-webkit-text-stroke:0.25px #333">10</span>
<span class="t blur" style="left:429.39px;top:593.9px;font-size:12.3px;color:#333;transform:scaleX(1.1356);-webkit-text-stroke:0.25px #333">5</span>
<span class="t blur" style="left:429.39px;top:615.2px;font-size:12.3px;color:#333;transform:scaleX(1.1261);-webkit-text-stroke:0.25px #333">0</span>
<span class="t blur" style="left:464.59px;top:627.2px;font-size:12.3px;color:#333;transform:scaleX(0.785);-webkit-text-stroke:0.25px #333">1</span>
<span class="t blur" style="left:494.18px;top:627.2px;font-size:12.3px;color:#333;transform:scaleX(1.115);-webkit-text-stroke:0.25px #333">2</span>
<span class="t blur" style="left:525.2px;top:627.2px;font-size:12.3px;color:#333;transform:scaleX(1.008);-webkit-text-stroke:0.25px #333">4</span>
<span class="t blur" style="left:555.39px;top:627.2px;font-size:12.3px;color:#333;transform:scaleX(1.1053);-webkit-text-stroke:0.25px #333">6</span>
<span class="t blur" style="left:586.21px;top:627.2px;font-size:12.3px;color:#333;transform:scaleX(1.0769);-webkit-text-stroke:0.25px #333">8</span>
<span class="t blur" style="left:613.18px;top:627.2px;font-size:12.3px;color:#333;transform:scaleX(1.0777);-webkit-text-stroke:0.25px #333">10</span>
<span class="t blur" style="left:643.97px;top:627.2px;font-size:12.3px;color:#333;transform:scaleX(1.091);-webkit-text-stroke:0.25px #333">12</span>
<i class="u" style="left:22px;top:219px;width:50px;height:1px;background:#c6e0f1"></i>
<i class="u" style="left:294px;top:219px;width:16px;height:1px;background:#c6e0f1"></i>
<i class="u" style="left:294px;top:286px;width:12px;height:1px;background:#c6e0f1"></i>
<i class="u" style="left:393px;top:286px;width:38px;height:1px;background:#c6e0f1"></i>
<i class="u" style="left:565px;top:219px;width:30px;height:1px;background:#c6e0f1"></i>
<i class="u" style="left:565px;top:286px;width:13px;height:1px;background:#c6e0f1"></i>
<i class="u" style="left:644px;top:286px;width:38px;height:1px;background:#c6e0f1"></i>
<i class="u" style="left:750px;top:286px;width:13px;height:1px;background:#c6e0f1"></i>
<i class="u" style="left:22px;top:406px;width:63px;height:1px;background:#c6e0f1"></i>
<i class="u" style="left:22px;top:472px;width:26px;height:1px;background:#c6e0f1"></i>
<i class="u" style="left:83px;top:472px;width:13px;height:1px;background:#c6e0f1"></i>
<i class="u" style="left:152px;top:472px;width:14px;height:1px;background:#c6e0f1"></i>
<i class="u" style="left:22px;top:592px;width:33px;height:1px;background:#c6e0f1"></i>
<i class="u" style="left:22px;top:659px;width:31px;height:1px;background:#c6e0f1"></i>
<i class="u" style="left:114px;top:659px;width:44px;height:1px;background:#c6e0f1"></i>
<i class="u" style="left:184px;top:659px;width:44px;height:1px;background:#c6e0f1"></i>
<i class="u" style="left:1429px;top:219px;width:63px;height:1px;background:#c6e0f1"></i>
<i class="u" style="left:964px;top:328px;width:124px;height:1px;background:#c6e0f1"></i>
<i class="u" style="left:1197px;top:328px;width:33px;height:1px;background:#c6e0f1"></i>
<i class="u" style="left:1636px;top:289px;width:10px;height:1px;background:#c6e0f1"></i>
<i class="u" style="left:1636px;top:321px;width:10px;height:1px;background:#c6e0f1"></i>
<i class="u" style="left:1627px;top:353px;width:19px;height:1px;background:#c6e0f1"></i>
<i class="u" style="left:1636px;top:385px;width:10px;height:1px;background:#c6e0f1"></i>
<i class="u" style="left:1636px;top:417px;width:10px;height:1px;background:#c6e0f1"></i>
<i class="u" style="left:964px;top:528px;width:79px;height:1px;background:#c6e0f1"></i>
<i class="u" style="left:964px;top:595px;width:26px;height:1px;background:#c6e0f1"></i>
<i class="u" style="left:1059px;top:595px;width:26px;height:1px;background:#c6e0f1"></i>
<i class="u" style="left:1429px;top:528px;width:80px;height:1px;background:#c6e0f1"></i>
<i class="u" style="left:1430px;top:595px;width:37px;height:1px;background:#c6e0f1"></i>
<i class="u" style="left:964px;top:769px;width:79px;height:1px;background:#c6e0f1"></i>
<i class="u" style="left:964px;top:836px;width:60px;height:1px;background:#c6e0f1"></i>
<i class="u" style="left:1087px;top:836px;width:61px;height:1px;background:#c6e0f1"></i>
<i class="u" style="left:1429px;top:769px;width:99px;height:1px;background:#c6e0f1"></i>
<i class="u" style="left:1430px;top:836px;width:13px;height:1px;background:#c6e0f1"></i>
<i class="u" style="left:1509px;top:836px;width:13px;height:1px;background:#c6e0f1"></i>
<i class="u" style="left:1574px;top:836px;width:14px;height:1px;background:#c6e0f1"></i>
<i class="u" style="left:1636px;top:836px;width:62px;height:1px;background:#c6e0f1"></i>
<div class="abs" style="left:954px;top:687px;width:859px;height:153px;border:1px solid #ff3333;background:transparent"></div>
<div class="abs" style="left:1895px;top:0px;width:20px;height:845px;background:#f1f1f1"></div>
<div class="abs" style="left:1897px;top:0px;width:17px;height:724px;background:#c1c1c1"></div>
<svg class="ic" style="left:0;top:809px" width="8" height="36" viewBox="0 0 8 36"><path d="M0 0.8 H4.4 Q7.2 0.8 7.2 3.6 V36 H0 Z" fill="#383b49"/><path d="M0 1.8 H4 Q5.9 1.8 5.9 4 V36 H0 Z" fill="#5c6274"/><rect x="0" y="8.0" width="3.0" height="0.9" fill="#3a3d4b"/><rect x="0" y="10.0" width="3.0" height="0.9" fill="#3a3d4b"/><rect x="0" y="12.0" width="3.0" height="0.9" fill="#3a3d4b"/><rect x="0" y="14.0" width="3.0" height="0.9" fill="#3a3d4b"/><rect x="0" y="16.0" width="3.0" height="0.9" fill="#3a3d4b"/><rect x="0" y="18.0" width="3.0" height="0.9" fill="#3a3d4b"/><rect x="0" y="20.0" width="2.2" height="0.9" fill="#f3bd55"/><rect x="0" y="22.0" width="2.2" height="0.9" fill="#f1c552"/><rect x="0" y="24.0" width="2.2" height="0.9" fill="#edd04e"/><rect x="0" y="26.0" width="2.2" height="0.9" fill="#e9da4c"/><rect x="0" y="28.0" width="2.2" height="0.9" fill="#dfdf4a"/><rect x="0" y="30.0" width="2.2" height="0.9" fill="#cfe04a"/><rect x="0" y="32.0" width="2.2" height="0.9" fill="#bcdc4c"/><rect x="0" y="34.0" width="2.2" height="0.9" fill="#aad650"/></svg>
</div>
</body>
</html>
